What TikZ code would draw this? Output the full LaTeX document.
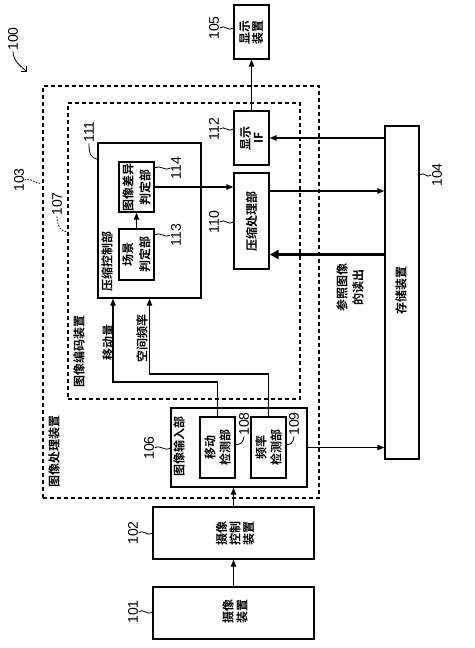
\documentclass[tikz,border=0pt]{standalone}
\usepackage{fontspec}
\setmainfont{Liberation Sans}
\newfontfamily\cjk{Noto Sans CJK SC}[BoldFont=* Bold]
\usetikzlibrary{arrows.meta}
\begin{document}
\begin{tikzpicture}[x=1pt,y=-1pt,
  box/.style={draw, line width=1.4pt, inner sep=0pt},
  dbox/.style={draw, line width=1.2pt, dash pattern=on 4pt off 3pt, inner sep=0pt},
  zh/.style={rotate=90, font=\cjk\bfseries\fontsize{12}{14}\selectfont, align=center, inner sep=0pt},
  zhw/.style={zh, font=\cjk\bfseries\fontsize{12}{17}\selectfont},
  num/.style={rotate=90, font=\fontsize{14}{14}\selectfont, inner sep=0.5pt},
  arr/.style={line width=1.2pt, -{Triangle[length=7pt,width=5.5pt]}},
  tarr/.style={line width=2.4pt, -{Triangle[length=9pt,width=9pt]}},
  lead/.style={line width=0.8pt},
  dlead/.style={line width=0.8pt, dash pattern=on 1.5pt off 1.5pt},
]
\fill[white] (0,0) rectangle (474,648);
\useasboundingbox (0,0) rectangle (474,648);

% dashed enclosures
\node[dbox, minimum width=276pt, minimum height=412pt] (d103) at (181,292) {};
\node[dbox, minimum width=232pt, minimum height=296pt] (d107) at (184,251) {};

% boxes
\node[box, minimum width=35pt, minimum height=54pt] (b105) at (251.5,32) {};
\node[box, minimum width=35pt, minimum height=54pt] (b112) at (251.5,138) {};
\node[box, minimum width=35pt, minimum height=96pt] (b110) at (251.5,221) {};
\node[box, minimum width=34pt, minimum height=333pt] (b104) at (402,292.5) {};
\node[box, minimum width=103pt, minimum height=155pt] (b111) at (149.5,220.5) {};
\node[box, minimum width=35pt, minimum height=50pt] (b114) at (136.5,187) {};
\node[box, minimum width=35pt, minimum height=51pt] (b113) at (136.5,254.5) {};
\node[box, minimum width=136pt, minimum height=79pt] (b106) at (239,447.5) {};
\node[box, minimum width=35pt, minimum height=61pt] (b108) at (217.5,447.5) {};
\node[box, minimum width=35pt, minimum height=61pt] (b109) at (268.5,447.5) {};
\node[box, minimum width=161pt, minimum height=52pt] (b102) at (233.5,533) {};
\node[box, minimum width=161pt, minimum height=52pt] (b101) at (233.5,613) {};

% texts
\node[zh, font=\cjk\bfseries\fontsize{12}{13}\selectfont] (t105) at (b105) {显示\\装置};
\node[zh, font=\cjk\bfseries\fontsize{12}{13}\selectfont] (t112) at (b112) {显示\\IF};
\node[zh] (t110) at (b110) {压缩处理部};
\node[zh] (t104) at (401,290) {存储装置};
\node[zh] (t111) at (107,261) {压缩控制部};
\node[zhw] (t114) at (b114) {图像差异\\判定部};
\node[zhw] (t113) at (b113) {场景\\判定部};
\node[zh] (t106) at (179,446) {图像输入部};
\node[zh, font=\cjk\bfseries\fontsize{12}{15}\selectfont] (t108) at (b108) {移动\\检测部};
\node[zh, font=\cjk\bfseries\fontsize{12}{15}\selectfont] (t109) at (b109) {频率\\检测部};
\node[zh, font=\cjk\bfseries\fontsize{12}{13.5}\selectfont] (t102) at (235,533) {摄像\\控制\\装置};
\node[zh, font=\cjk\bfseries\fontsize{12}{14}\selectfont] (t101) at (235,611) {摄像\\装置};
\node[zh] (t103) at (54,451) {图像处理装置};
\node[zh] (t107) at (79,351) {图像编码装置};
\node[zh, font=\cjk\bfseries\fontsize{12}{16}\selectfont] (tref) at (350,287) {参照图像\\的读出};
\node[zh] (tmv) at (108,342) {移动量};
\node[zh] (tsf) at (142,338) {空间频率};

% numbers
\node[num] (l100) at (13,39) {100};
\node[num] (l103) at (19,180) {103};
\node[num] (l107) at (57,204) {107};
\node[num] (l111) at (89,132) {111};
\node[num] (l114) at (176,168) {114};
\node[num] (l113) at (176,235) {113};
\node[num] (l110) at (214,222) {110};
\node[num] (l112) at (214,129) {112};
\node[num] (l105) at (214,28) {105};
\node[num] (l104) at (437,175) {104};
\node[num] (l106) at (149,448) {106};
\node[num] (l108) at (244,424) {108};
\node[num] (l109) at (294,424) {109};
\node[num] (l102) at (133,533) {102};
\node[num] (l101) at (133,612) {101};

% leaders
\coordinate (c100) at (27,72);
\draw[lead, -{Straight Barb[length=4pt]}] (l100.west) .. controls +(0,10) and +(-6,-6) .. (c100);
\draw[dlead] (l103.south) .. controls +(6,-4) and +(-6,3) .. ([yshift=109pt]d103.west);
\draw[dlead] (l107.west) .. controls +(0,10) and +(-6,0) .. ([yshift=19pt]d107.west);
\draw[lead] (l111.west) .. controls +(0,12) and +(-6,-2) .. ([yshift=-17pt]b111.north west);
\draw[lead] (b114.east |- l114.north) .. controls +(5,-4) and +(-5,4) .. (l114.north);
\draw[lead] (b113.east |- l113.north) .. controls +(5,-4) and +(-5,4) .. (l113.north);
\draw[lead] (l110.south) .. controls +(5,-4) and +(-5,4) .. (b110.west |- l110.south);
\draw[lead] (l112.south) .. controls +(5,-4) and +(-5,4) .. (b112.west |- l112.south);
\draw[lead] (l105.south) .. controls +(5,-4) and +(-5,4) .. (b105.west |- l105.south);
\draw[lead] (b104.east |- l104.north) .. controls +(5,-4) and +(-5,4) .. (l104.north);
\draw[lead] (l106.south) .. controls +(6,-4) and +(-6,4) .. (b106.west |- l106.south);
\draw[lead] (l102.south) .. controls +(6,-4) and +(-6,4) .. (b102.west |- l102.south);
\draw[lead] (l101.south) .. controls +(6,-4) and +(-6,4) .. (b101.west |- l101.south);
\draw[lead] (l108.west) .. controls +(-1,8) and +(3,0) .. ([yshift=3pt]b108.east);
\draw[lead] (l109.west) .. controls +(-1,8) and +(3,0) .. ([yshift=3pt]b109.east);

% connectors
\draw[arr] (b112.north) -- (b105.south);
\draw[arr] (b104.west |- b112) -- (b112.east);
\draw[arr] (b114.east) -- (b110.west |- b114.east);
\draw[arr] ([yshift=-4pt]b110.east |- b114.east) -- ([yshift=-4pt]b104.west |- b114.east);
\draw[tarr] (b104.west |- b113) -- (b110.east |- b113);
\draw[arr] (b113.north) -- (b114.south);
\coordinate (k1) at (113,382);
\coordinate (k2) at (149.5,374);
\draw[arr] (b108.north) |- (k1) -- (k1 |- b111.south);
\draw[arr] (b109.north) |- (k2) -- (b111.south);
\draw[arr] (b106.east) -- (b104.west |- b106.east);
\draw[arr] (b102.north) -- (b102.north |- b106.south);
\draw[arr] (b101.north) -- (b102.south);
\end{tikzpicture}
\end{document}
